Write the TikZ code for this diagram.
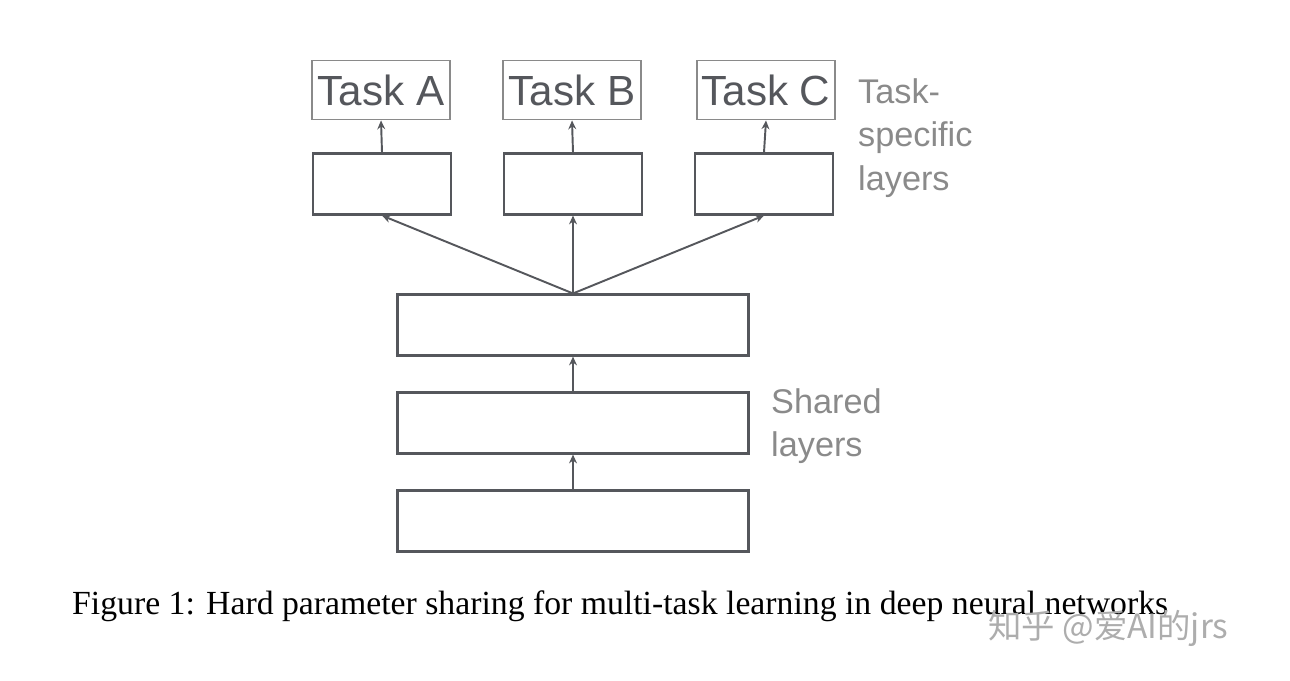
\documentclass[tikz,border=0pt]{standalone}
\usepackage{fontspec}
\setmainfont{Liberation Serif}
\newfontfamily\mysans{Liberation Sans}
\newfontfamily\mycjk{Noto Sans CJK SC}
\usetikzlibrary{arrows.meta}
\definecolor{dk}{HTML}{55575C}
\definecolor{lt}{HTML}{8A8A8A}
\begin{document}
\begin{tikzpicture}[x=0.02cm,y=-0.02cm,
 box/.style={draw=dk,line width=1.2pt,minimum height=61*0.02cm,inner sep=0},
 task/.style={draw=lt,line width=1.1pt,minimum width=138*0.02cm,minimum height=59*0.02cm,inner sep=0,text=dk,font=\mysans\fontsize{24}{24}\selectfont},
 arr/.style={draw=dk,line width=1.1pt,-{Stealth[length=5pt,width=4.5pt]}},
 side/.style={text=lt,font=\mysans\fontsize{19.5}{25}\selectfont,align=left,anchor=north west}]
\useasboundingbox (0,0) rectangle (1290,680);
\node[task] (ta) at (381,90) {Task A};
\node[task] (tb) at (572,90) {Task B};
\node[task] (tc) at (766,90) {Task C};
\node[box,minimum width=138*0.02cm] (la) at (382,184) {};
\node[box,minimum width=138*0.02cm] (lb) at (573,184) {};
\node[box,minimum width=138*0.02cm] (lc) at (764,184) {};
\node[box,minimum width=351*0.02cm] (s3) at (573,325) {};
\node[box,minimum width=351*0.02cm] (s2) at (573,423) {};
\node[box,minimum width=351*0.02cm] (s1) at (573,521) {};
\draw[arr] (la.north) -- (ta.south);
\draw[arr] (lb.north) -- (tb.south);
\draw[arr] (lc.north) -- (tc.south);
\draw[arr] (s3.north) -- (la.south);
\draw[arr] (s3.north) -- (lb.south);
\draw[arr] (s3.north) -- (lc.south);
\draw[arr] (s2.north) -- (s3.south);
\draw[arr] (s1.north) -- (s2.south);
\node[side] (tl) at (852,72) {Task-\\specific\\layers};
\node[side] (sl) at (765,382) {Shared\\layers};
\node[anchor=base west,font=\fontsize{19.2}{19}\selectfont] (cap) at (66,614) {Figure 1: Hard parameter sharing for multi-task learning in deep neural networks};
\node[anchor=base west,text=lt!70,font=\mycjk\fontsize{19}{19}\selectfont] (wm) at (982,638) {知乎 @爱AI的jrs};
\end{tikzpicture}
\end{document}
